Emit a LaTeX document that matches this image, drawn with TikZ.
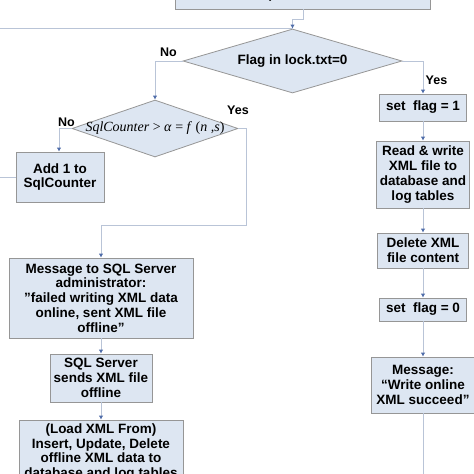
\documentclass[tikz,border=0pt]{standalone}
\usepackage{fontspec}
\setmainfont{Liberation Sans}
\newfontfamily\tnr{Liberation Serif}
\usetikzlibrary{shapes.geometric,arrows.meta}
\definecolor{boxfill}{RGB}{221,230,242}
\definecolor{boxline}{RGB}{150,150,150}
\definecolor{conn}{RGB}{185,196,215}
\definecolor{tipc}{RGB}{80,110,170}
\tikzset{
 box/.style={draw=boxline, fill=boxfill, line width=0.8pt, inner sep=0pt, align=center, font=\fontsize{13.5}{14.8}\selectfont\bfseries},
 dia/.style={draw=boxline, fill=boxfill, line width=0.8pt, diamond, inner sep=0pt},
 lbl/.style={font=\fontsize{12.5}{14}\selectfont\bfseries, inner sep=0pt},
 dtext/.style={font=\fontsize{13.5}{14.8}\selectfont\bfseries, inner sep=0pt},
 cn/.style={draw=conn, line width=0.8pt},
 arr/.style={cn, -{Latex[length=4pt,width=4.5pt,color=tipc]}},
}
\begin{document}
\begin{tikzpicture}[x=1pt,y=-1pt]
\clip (0,0) rectangle (474,474);
\fill[white] (0,0) rectangle (474,474);
% top box
\node[box, minimum width=255pt, minimum height=27pt] (top) at (302.5,-4.5) {Open Lockfile};
% diamonds
\node[dia, minimum width=219pt, minimum height=64pt] (d1) at (292.5,61) {};
\node[dtext] (d1t) at (d1.center) {Flag in lock.txt=0};
\node[dia, minimum width=166pt, minimum height=57pt] (d2) at (155,128.5) {};
\node[inner sep=0pt, font=\fontsize{14}{16}\selectfont\tnr\itshape] (d2t) at (d2.center) {SqlCounter \textup{>} α \textup{=} f \textup{(}n ,s\textup{)}};
% left column
\node[box, minimum width=88pt, minimum height=50pt] (add) at (60,177) {Add 1 to\\SqlCounter};
\node[box, minimum width=184pt, minimum height=80pt] (msg) at (101,298) {Message to SQL Server\\administrator:\\"failed writing XML data\\online, sent XML file\\offline"};
\node[box, minimum width=102pt, minimum height=48pt] (sqls) at (101,378) {SQL Server\\sends XML file\\offline};
\node[box, minimum width=164pt, minimum height=64pt] (load) at (101,452) {(Load XML From)\\Insert, Update, Delete\\offline XML data to\\database and log tables};
% right column
\node[box, minimum width=87pt, minimum height=27pt] (sf1) at (423,107.5) {set\ \ flag = 1};
\node[box, minimum width=93pt, minimum height=67pt] (rw) at (423,174.5) {Read \& write\\XML file to\\database and\\log tables};
\node[box, minimum width=91pt, minimum height=35pt] (del) at (423,250.5) {Delete XML\\file content};
\node[box, minimum width=87pt, minimum height=23pt] (sf0) at (423,309.5) {set\ \ flag = 0};
\node[box, minimum width=103pt, minimum height=56pt] (smsg) at (423,385) {Message:\\“Write online\\XML succeed”};
\coordinate (bend) at (423,480);
% labels
\node[lbl] (no1) at (168.5,52) {No};
\node[lbl] (yes1) at (436.5,80) {Yes};
\node[lbl] (no2) at (66.5,122) {No};
\node[lbl] (yes2) at (238,110) {Yes};
% connectors
\draw[cn] (top.south -| 303,0) -- (303,19) -- (292.5,19);
\draw[arr] (292.5,19) -- (d1.north);
\draw[cn] (add.west) -- (-20,177) |- (292.5,28);
\draw[arr] (d1.west) -| (d2.north);
\draw[arr] (d1.east) -| (sf1.north);
\draw[arr] (d2.west) -| (add.north -| 59,0);
\draw[arr] (d2.east) -- (246,128.5) -- (246,225) -- (101,225) -- (msg.north);
\draw[arr] (msg.south) -- (sqls.north);
\draw[arr] (sqls.south) -- (load.north);
\draw[arr] (sf1.south) -- (rw.north);
\draw[arr] (rw.south) -- (del.north);
\draw[arr] (del.south) -- (sf0.north);
\draw[arr] (sf0.south) -- (smsg.north);
\draw[cn] (smsg.south) -- (bend);
\end{tikzpicture}
\end{document}
